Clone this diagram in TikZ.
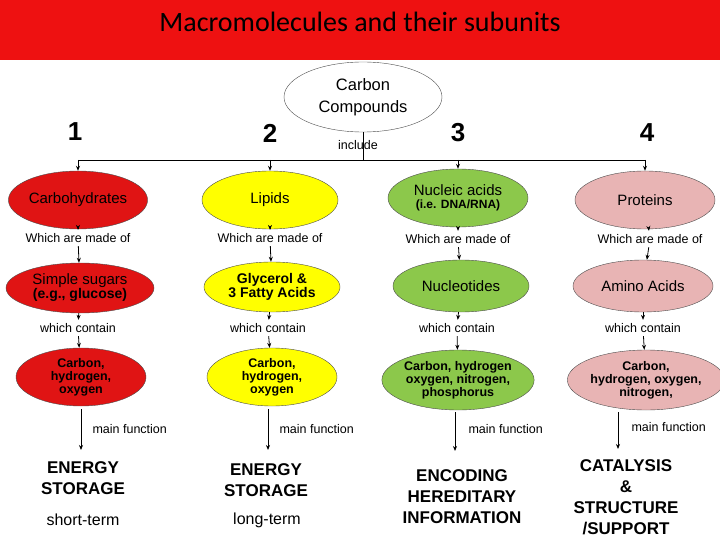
\documentclass[tikz,border=0pt]{standalone}
\usepackage{fontspec}
\setmainfont{Liberation Sans}
\newfontfamily\titlefont{Carlito}
\usetikzlibrary{shapes.geometric,arrows.meta}
\definecolor{barred}{HTML}{EE1111}
\definecolor{ered}{HTML}{E01414}
\definecolor{eyel}{HTML}{FFFF00}
\definecolor{egrn}{HTML}{8CC84B}
\definecolor{epnk}{HTML}{E8B4B4}
\begin{document}
\begin{tikzpicture}[x=1pt,y=-1pt,
  el/.style={ellipse,draw=black!70,minimum width=#1,inner sep=0pt,align=center,font=\bfseries\fontsize{14}{14}\selectfont},
  sm/.style={font=\fontsize{12.5}{13}\selectfont},
  big/.style={font=\bfseries\fontsize{17}{21}\selectfont,align=center},
  num/.style={font=\bfseries\fontsize{26}{26}\selectfont},
  arr/.style={-{Stealth[length=5pt,width=4pt]},thick}]
\useasboundingbox (0,0) rectangle (720,540);
\fill[barred] (0,0) rectangle (720,60);
\node[font=\titlefont\fontsize{28}{28}\selectfont] (title) at (360,22) {Macromolecules and their subunits};
\node[ellipse,draw=black!70,minimum width=158,minimum height=70,inner sep=0pt,align=center,font=\fontsize{16.5}{22}\selectfont] (cc) at (363,97) {Carbon\\Compounds};
\node[sm] (inc) at (358,145) {include};
\coordinate (bar) at (363,160);
\coordinate (bl) at (78,160);
\coordinate (br) at (645,160);
\draw[thick] (cc) -- (bar) (bl) -- (br);
\node[num] (n1) at (75,132) {1};
\node[num] (n2) at (270,133) {2};
\node[num] (n3) at (458,133) {3};
\node[num] (n4) at (647,133) {4};
% row 1
\node[el=136,minimum height=58,fill=ered] (a1) at (78,200) {\mdseries\fontsize{15}{15}\selectfont Carbohydrates};
\node[el=136,minimum height=58,fill=eyel] (b1) at (270,200) {\mdseries\fontsize{15}{15}\selectfont Lipids};
\node[el=140,minimum height=58,fill=egrn] (c1) at (458,198) {\mdseries\fontsize{15}{17}\selectfont Nucleic acids\\[-1pt]\fontsize{12}{14}\selectfont (i.e. DNA/RNA)};
\node[el=140,minimum height=58,fill=epnk] (d1) at (645,200) {\mdseries\fontsize{15}{15}\selectfont Proteins};
\foreach \c/\x in {a/78,b/270,c/458,d/645}{\coordinate (t\c) at (\x,160); \draw[arr] (t\c) -- (\c1);}
% which are made of
\node[sm] (a2l) at (78,238) {Which are made of};
\node[sm] (b2l) at (270,238) {Which are made of};
\node[sm] (c2l) at (458,239) {Which are made of};
\node[sm] (d2l) at (650,239) {Which are made of};
\node[el=148,minimum height=50,fill=ered] (a2) at (80,288) {\mdseries\fontsize{15}{18}\selectfont Simple sugars\\(e.g., glucose)};
\node[el=136,minimum height=50,fill=eyel] (b2) at (272,287) {Glycerol \&\\3 Fatty Acids};
\node[el=136,minimum height=52,fill=egrn] (c2) at (461,286) {\mdseries\fontsize{15}{15}\selectfont Nucleotides};
\node[el=140,minimum height=52,fill=epnk] (d2) at (643,286) {\mdseries\fontsize{15}{15}\selectfont Amino Acids};
% which contain
\node[sm] (a3l) at (78,328) {which contain};
\node[sm] (b3l) at (268,328) {which contain};
\node[sm] (c3l) at (457,328) {which contain};
\node[sm] (d3l) at (643,328) {which contain};
\node[el=130,minimum height=58,fill=ered,font=\bfseries\fontsize{12.5}{13}\selectfont] (a3) at (81,377) {Carbon,\\hydrogen,\\oxygen};
\node[el=130,minimum height=58,fill=eyel,font=\bfseries\fontsize{12.5}{13}\selectfont] (b3) at (272,377) {Carbon,\\hydrogen,\\oxygen};
\node[el=136,minimum height=60,fill=egrn,font=\bfseries\fontsize{12.5}{13}\selectfont] (c3) at (458,380) {Carbon, hydrogen\\oxygen, nitrogen,\\phosphorus};
\node[el=138,minimum height=60,fill=epnk,font=\bfseries\fontsize{12.5}{13}\selectfont] (d3) at (646,380) {Carbon,\\hydrogen, oxygen,\\nitrogen,};
\foreach \c in {a,b,c,d}{
  \draw[arr] (\c1) -- (\c2l);
  \draw[arr] (\c2l) -- (\c2);
  \draw[arr] (\c2) -- (\c3l);
  \draw[arr] (\c3l) -- (\c3);}
% main function
\foreach \c/\x/\ya/\yb in {a/81/409/450,b/268/409/450,c/455/412/451,d/618/412/449}{
  \coordinate (f\c s) at (\x,\ya); \coordinate (f\c e) at (\x,\yb);
  \draw[arr] (f\c s) -- (f\c e);}
\node[sm,anchor=west] (ma) at (89,429) {main function};
\node[sm,anchor=west] (mb) at (276,429) {main function};
\node[sm,anchor=west] (mc) at (465,429) {main function};
\node[sm,anchor=west] (md) at (628,427) {main function};
% functions
\node[big] (ea) at (83,478) {ENERGY\\STORAGE};
\node[font=\fontsize{16}{16}\selectfont] (sa) at (83,520) {short-term};
\node[big] (eb) at (266,480) {ENERGY\\STORAGE};
\node[font=\fontsize{16}{16}\selectfont] (sb) at (267,520) {long-term};
\node[big] (ec) at (462,497) {ENCODING\\HEREDITARY\\INFORMATION};
\node[big] (ed) at (626,497) {CATALYSIS\\\&\\STRUCTURE\\/SUPPORT};
\end{tikzpicture}
\end{document}
